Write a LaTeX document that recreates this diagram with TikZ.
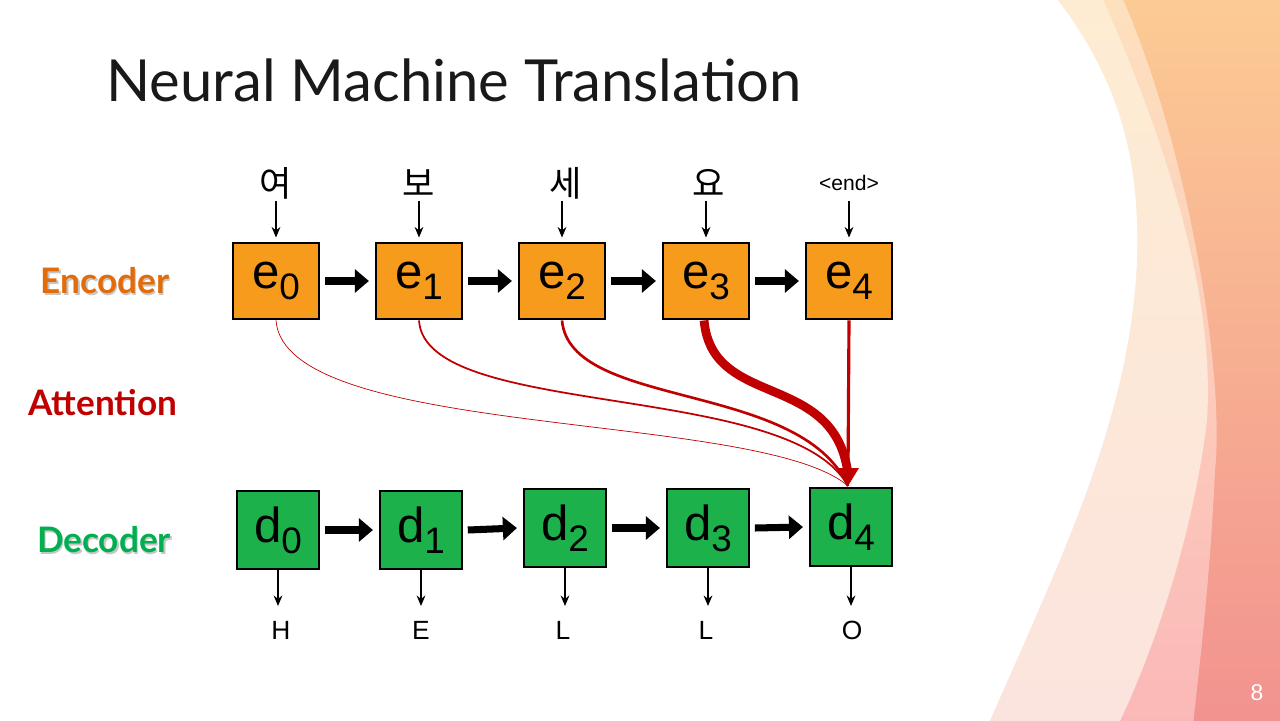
\documentclass[tikz,border=0pt]{standalone}
\usepackage{fontspec}
\setmainfont{Lato}
\newfontfamily\arialf{Liberation Sans}
\newfontfamily\kor{Noto Sans CJK KR}
\usetikzlibrary{arrows.meta}
\definecolor{encO}{HTML}{F79B1D}
\definecolor{encT}{HTML}{E36C0A}
\definecolor{decG}{HTML}{1DB14B}
\definecolor{decT}{HTML}{00B050}
\definecolor{attR}{HTML}{C00000}
\newcommand{\sbx}[2]{#1\raisebox{-0.22em}{\fontsize{21}{21}\selectfont #2}}
\tikzset{
 ebox/.style={draw=black,line width=1.2pt,fill=encO,minimum width=48.8pt,minimum height=43.7pt,inner sep=0pt,font=\arialf\fontsize{28}{28}\selectfont},
 dbox/.style={draw=black,line width=1.2pt,fill=decG,minimum width=46.5pt,minimum height=44.2pt,inner sep=0pt,font=\arialf\fontsize{28}{28}\selectfont},
 thick arr/.style={line width=4pt,-{Triangle[length=8pt,width=13pt]}},
 small arr/.style={line width=0.7pt,-{Stealth[length=6pt,width=5pt]}},
 side/.style={font=\bfseries\fontsize{20}{20}\selectfont},
 shad/.style={side,text=gray!45},
}
\begin{document}
\begin{tikzpicture}[x=0.02cm,y=-0.02cm]
\useasboundingbox (0,0) rectangle (1280,720);
\fill[white] (0,0) rectangle (1280,720);
% background
\shade[top color={rgb,255:red,252;green,203;blue,148},bottom color={rgb,255:red,242;green,146;blue,143}] (1040,-5) rectangle (1285,725);
\shade[top color={rgb,255:red,253;green,225;blue,190},bottom color={rgb,255:red,251;green,184;blue,184}] (1040,-5) -- (1121,-5) .. controls (1190,150) and (1225,380) .. (1215,470) .. controls (1210,580) and (1200,660) .. (1193,725) -- (980,725) -- cycle;
\shade[top color={rgb,255:red,254;green,236;blue,210},bottom color={rgb,255:red,251;green,228;blue,222}] (1040,-5) -- (1101,-5) .. controls (1170,150) and (1215,300) .. (1207,420) .. controls (1190,560) and (1140,680) .. (1118,725) -- (980,725) -- cycle;
\fill[white] (1040,-5) -- (1054,-5) .. controls (1120,80) and (1140,160) .. (1137,260) .. controls (1130,420) and (1060,560) .. (988,725) -- (-5,725) -- (-5,-5) -- cycle;
% title
\node[anchor=west,font=\fontsize{33}{33}\selectfont,text=black!90] (title) at (100,80) {Neural Machine Translation};
\node[font=\arialf\fontsize{13}{13}\selectfont,text=white] (pg) at (1257,693) {8};
% side labels
\node[shad] (lencs) at (106.5,282.5) {Encoder};
\node[side,text=encT] (lenc) at (105,281) {Encoder};
\node[side,text=attR] (latt) at (103,403) {Attention};
\node[shad] (ldecs) at (105.5,541.5) {Decoder};
\node[side,text=decT] (ldec) at (104,540) {Decoder};
% encoder
\node[ebox] (e0) at (276,281) {\sbx{e}{0}};
\node[ebox] (e1) at (419,281) {\sbx{e}{1}};
\node[ebox] (e2) at (562,281) {\sbx{e}{2}};
\node[ebox] (e3) at (706,281) {\sbx{e}{3}};
\node[ebox] (e4) at (849,281) {\sbx{e}{4}};
% decoder
\node[dbox] (d0) at (278,530) {\sbx{d}{0}};
\node[dbox] (d1) at (421,530) {\sbx{d}{1}};
\node[dbox] (d2) at (565,528) {\sbx{d}{2}};
\node[dbox] (d3) at (708,528) {\sbx{d}{3}};
\node[dbox] (d4) at (851,527) {\sbx{d}{4}};
\foreach \a/\b in {e0/e1,e1/e2,e2/e3,e3/e4,d0/d1,d1/d2,d2/d3,d3/d4}
  \draw[thick arr] ([xshift=2.8pt]\a.east) -- ([xshift=-3.5pt]\b.west);
% input words
\node[font=\kor\fontsize{20}{20}\selectfont] (w0) at (276,183) {여};
\node[font=\kor\fontsize{20}{20}\selectfont] (w1) at (419,183) {보};
\node[font=\kor\fontsize{20}{20}\selectfont] (w2) at (566,183) {세};
\node[font=\kor\fontsize{20}{20}\selectfont] (w3) at (709,183) {요};
\node[font=\arialf\fontsize{12}{12}\selectfont] (w4) at (849,183) {<end>};
\foreach \i in {0,...,4} \draw[small arr] (e\i.north |- 0,201) -- ([yshift=2.3pt]e\i.north);
% outputs
\node[font=\arialf\fontsize{15}{15}\selectfont] (o0) at (281,630) {H};
\node[font=\arialf\fontsize{15}{15}\selectfont] (o1) at (421,630) {E};
\node[font=\arialf\fontsize{15}{15}\selectfont] (o2) at (563,630) {L};
\node[font=\arialf\fontsize{15}{15}\selectfont] (o3) at (706,630) {L};
\node[font=\arialf\fontsize{15}{15}\selectfont] (o4) at (852,630) {O};
\foreach \i in {0,...,4} \draw[small arr] (d\i.south) -- (d\i.south |- 0,606);
% attention
\coordinate (tgt) at (848,486);
\draw[draw=attR,line width=0.4pt] (e0.south) .. controls (285,440) and (760,410) .. (tgt);
\draw[draw=attR,line width=1pt] (e1.south) .. controls (425,420) and (790,380) .. (tgt);
\draw[draw=attR,line width=1.5pt] (e2.south) .. controls (570,410) and (800,380) .. (tgt);
\draw[draw=attR,line width=5pt] ([xshift=-1.1pt]e3.south) .. controls (712,410) and (835,370) .. ([yshift=6.8pt]tgt);
\draw[draw=attR,line width=1.8pt] (e4.south) -- ([yshift=5.7pt]tgt);
\fill[attR] ([xshift=-6.2pt,yshift=10.2pt]tgt) -- ([xshift=6.2pt,yshift=10.2pt]tgt) -- (tgt) -- cycle;
\end{tikzpicture}
\end{document}
